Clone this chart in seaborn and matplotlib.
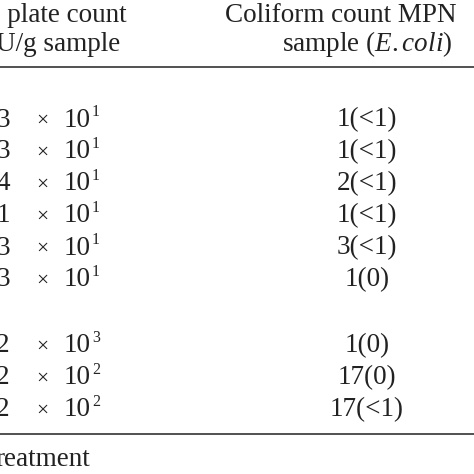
import matplotlib
matplotlib.use("Agg")
import matplotlib.pyplot as plt
import seaborn as sns

sns.set_theme(style="white")
plt.rcParams['font.family'] = ['Liberation Serif', 'DejaVu Serif']
plt.rcParams['mathtext.fontset'] = 'custom'
plt.rcParams['mathtext.rm'] = 'Liberation Serif'
plt.rcParams['mathtext.it'] = 'Liberation Serif:italic'

mantissas = ["3", "3", "4", "1", "3", "3", "2", "2", "2"]
exponents = ["1", "1", "1", "1", "1", "1", "3", "2", "2"]
coliform = ["1(<1)", "1(<1)", "2(<1)", "1(<1)", "3(<1)", "1(0)", "1(0)", "17(0)", "17(<1)"]
row_y = [120, 152, 184, 216, 248, 280, 346, 378, 410]

fig = plt.figure(figsize=(4.74, 4.74), dpi=100)
ax = fig.add_axes([0, 0, 1, 1])
ax.set_xlim(0, 474)
ax.set_ylim(474, 0)
ax.axis("off")

fs = 19.5
col = "#222222"
ax.text(-7, 15, "l plate count", fontsize=fs, va="center", ha="left", color=col)
ax.text(-4, 44, "U/g sample", fontsize=fs, va="center", ha="left", color=col)
ax.text(225, 15, "Coliform count MPN", fontsize=fs, va="center", ha="left", color=col)
ax.text(367, 44, "sample ($\\mathit{E.coli}$)", fontsize=fs, va="center", ha="center", color=col)

ax.plot([0, 474], [67, 67], color="#333333", lw=1.2)
ax.plot([0, 474], [434, 434], color="#333333", lw=1.2)

for m, e, c, y in zip(mantissas, exponents, coliform, row_y):
    ax.text(3, y, m, fontsize=fs, va="center", ha="center", color=col)
    ax.text(42, y + 1, "×", fontsize=fs - 4, va="center", ha="center", color=col)
    ax.text(64, y, "10", fontsize=fs, va="center", ha="left", color=col)
    ax.text(92, y - 8, e, fontsize=fs - 8, va="center", ha="left", color=col)
    ax.text(367, y, c, fontsize=fs, va="center", ha="center", color=col)

ax.text(-5, 459, "reatment", fontsize=fs, va="center", ha="left", color=col)

fig.savefig("out.png", dpi=100)
